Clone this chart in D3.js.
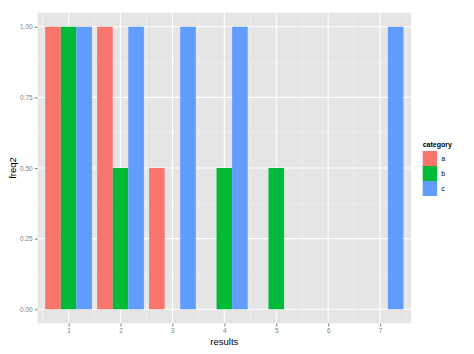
<!DOCTYPE html>
<html>
<head>
<meta charset="utf-8">
<script src="https://cdn.jsdelivr.net/npm/d3@7"></script>
<style>
  body { margin: 0; background: #fff; }
  svg { font-family: Arial, "Liberation Sans", sans-serif; }
</style>
</head>
<body>
<svg id="chart"></svg>
<script>
// data ////////////////////////////////////////////////////////////
var results = [1, 2, 3, 4, 5, 6, 7];
var categories = ['a', 'b', 'c'];
var freq_a = [1, 1, 0.5, 0, 0, 0, 0];
var freq_b = [1, 0.5, 0, 0.5, 0.5, 0, 0];
var freq_c = [1, 1, 1, 1, 0, 0, 1];
var y_ticks = [0, 0.25, 0.5, 0.75, 1];
var colours = ['#F8766D', '#00BA38', '#619CFF'];

// setup ///////////////////////////////////////////////////////////
const W = 474, H = 354;
const PANEL_LEFT = 37.7, PANEL_RIGHT = 411, PANEL_TOP = 12.6, PANEL_BOTTOM = 323.4;

var svg = d3.select('#chart').attr('width', W).attr('height', H);

var x = d3.scaleLinear().domain([0.405, 7.595]).range([PANEL_LEFT, PANEL_RIGHT]);
var y = d3.scaleLinear().domain([-0.05, 1.05]).range([PANEL_BOTTOM, PANEL_TOP]);
var colour = d3.scaleOrdinal().domain(categories).range(colours);

var series = [freq_a, freq_b, freq_c];
var bars = [];
series.forEach(function (vals, gi) {
    vals.forEach(function (v, i) {
        if (v > 0) bars.push({ res: results[i], cat: categories[gi], gi: gi, val: v });
    });
});

// panel
svg.append('rect')
    .attr('x', PANEL_LEFT).attr('y', PANEL_TOP)
    .attr('width', PANEL_RIGHT - PANEL_LEFT).attr('height', PANEL_BOTTOM - PANEL_TOP)
    .attr('fill', '#E5E5E5');

// minor grid
var minorX = results.map(function (d) { return d - 0.5; }).concat([7.5]);
var minorY = [-0.125, 0.125, 0.375, 0.625, 0.875].filter(function (d) { return d > -0.05; });
svg.append('g').selectAll('line').data(minorX).enter().append('line')
    .attr('x1', d => x(d)).attr('x2', d => x(d))
    .attr('y1', PANEL_TOP).attr('y2', PANEL_BOTTOM)
    .attr('stroke', '#F2F2F2').attr('stroke-width', 0.6);
svg.append('g').selectAll('line').data(minorY).enter().append('line')
    .attr('y1', d => y(d)).attr('y2', d => y(d))
    .attr('x1', PANEL_LEFT).attr('x2', PANEL_RIGHT)
    .attr('stroke', '#F2F2F2').attr('stroke-width', 0.6);

// major grid
svg.append('g').selectAll('line').data(results).enter().append('line')
    .attr('x1', d => x(d)).attr('x2', d => x(d))
    .attr('y1', PANEL_TOP).attr('y2', PANEL_BOTTOM)
    .attr('stroke', '#fff').attr('stroke-width', 1.1);
svg.append('g').selectAll('line').data(y_ticks).enter().append('line')
    .attr('y1', d => y(d)).attr('y2', d => y(d))
    .attr('x1', PANEL_LEFT).attr('x2', PANEL_RIGHT)
    .attr('stroke', '#fff').attr('stroke-width', 1.1);

// bars (dodged, width 0.9 split in three)
const BW = 0.3;
svg.append('g').selectAll('rect').data(bars).enter().append('rect')
    .attr('x', d => x(d.res - 0.45 + d.gi * BW))
    .attr('width', d => x(BW) - x(0))
    .attr('y', d => y(d.val))
    .attr('height', d => y(0) - y(d.val))
    .attr('fill', d => colour(d.cat));

// axes
var gx = svg.append('g')
    .attr('transform', 'translate(0,' + PANEL_BOTTOM + ')')
    .call(d3.axisBottom(x).tickValues(results).tickSize(3).tickPadding(2).tickFormat(d3.format('d')));
var gy = svg.append('g')
    .attr('transform', 'translate(' + PANEL_LEFT + ',0)')
    .call(d3.axisLeft(y).tickValues(y_ticks).tickSize(3).tickPadding(2).tickFormat(d3.format('.2f')));
[gx, gy].forEach(function (g) {
    g.select('.domain').remove();
    g.selectAll('line').attr('stroke', '#7F7F7F');
    g.selectAll('text').attr('fill', '#7F7F7F').style('font-size', '6.5px');
});

// axis titles
svg.append('text')
    .text('results')
    .attr('x', (PANEL_LEFT + PANEL_RIGHT) / 2).attr('y', 345)
    .style('text-anchor', 'middle').style('font-size', '9.5px').attr('fill', '#000');
svg.append('text')
    .text('freq2')
    .attr('transform', 'translate(16,' + ((PANEL_TOP + PANEL_BOTTOM) / 2) + ') rotate(-90)')
    .style('text-anchor', 'middle').style('font-size', '9.5px').attr('fill', '#000');

// legend
var legend = svg.append('g').attr('transform', 'translate(422.7,151)');
legend.append('text').text('category')
    .attr('x', 0).attr('y', -4)
    .style('font-size', '7px').style('font-weight', 'bold');
var keys = legend.selectAll('g').data(categories).enter().append('g')
    .attr('transform', (d, i) => 'translate(0,' + (i * 15) + ')');
keys.append('rect')
    .attr('width', 14.5).attr('height', 15)
    .attr('fill', d => colour(d));
keys.append('text').text(d => d)
    .attr('x', 18.5).attr('y', 10)
    .style('font-size', '7px');
</script>
</body>
</html>
